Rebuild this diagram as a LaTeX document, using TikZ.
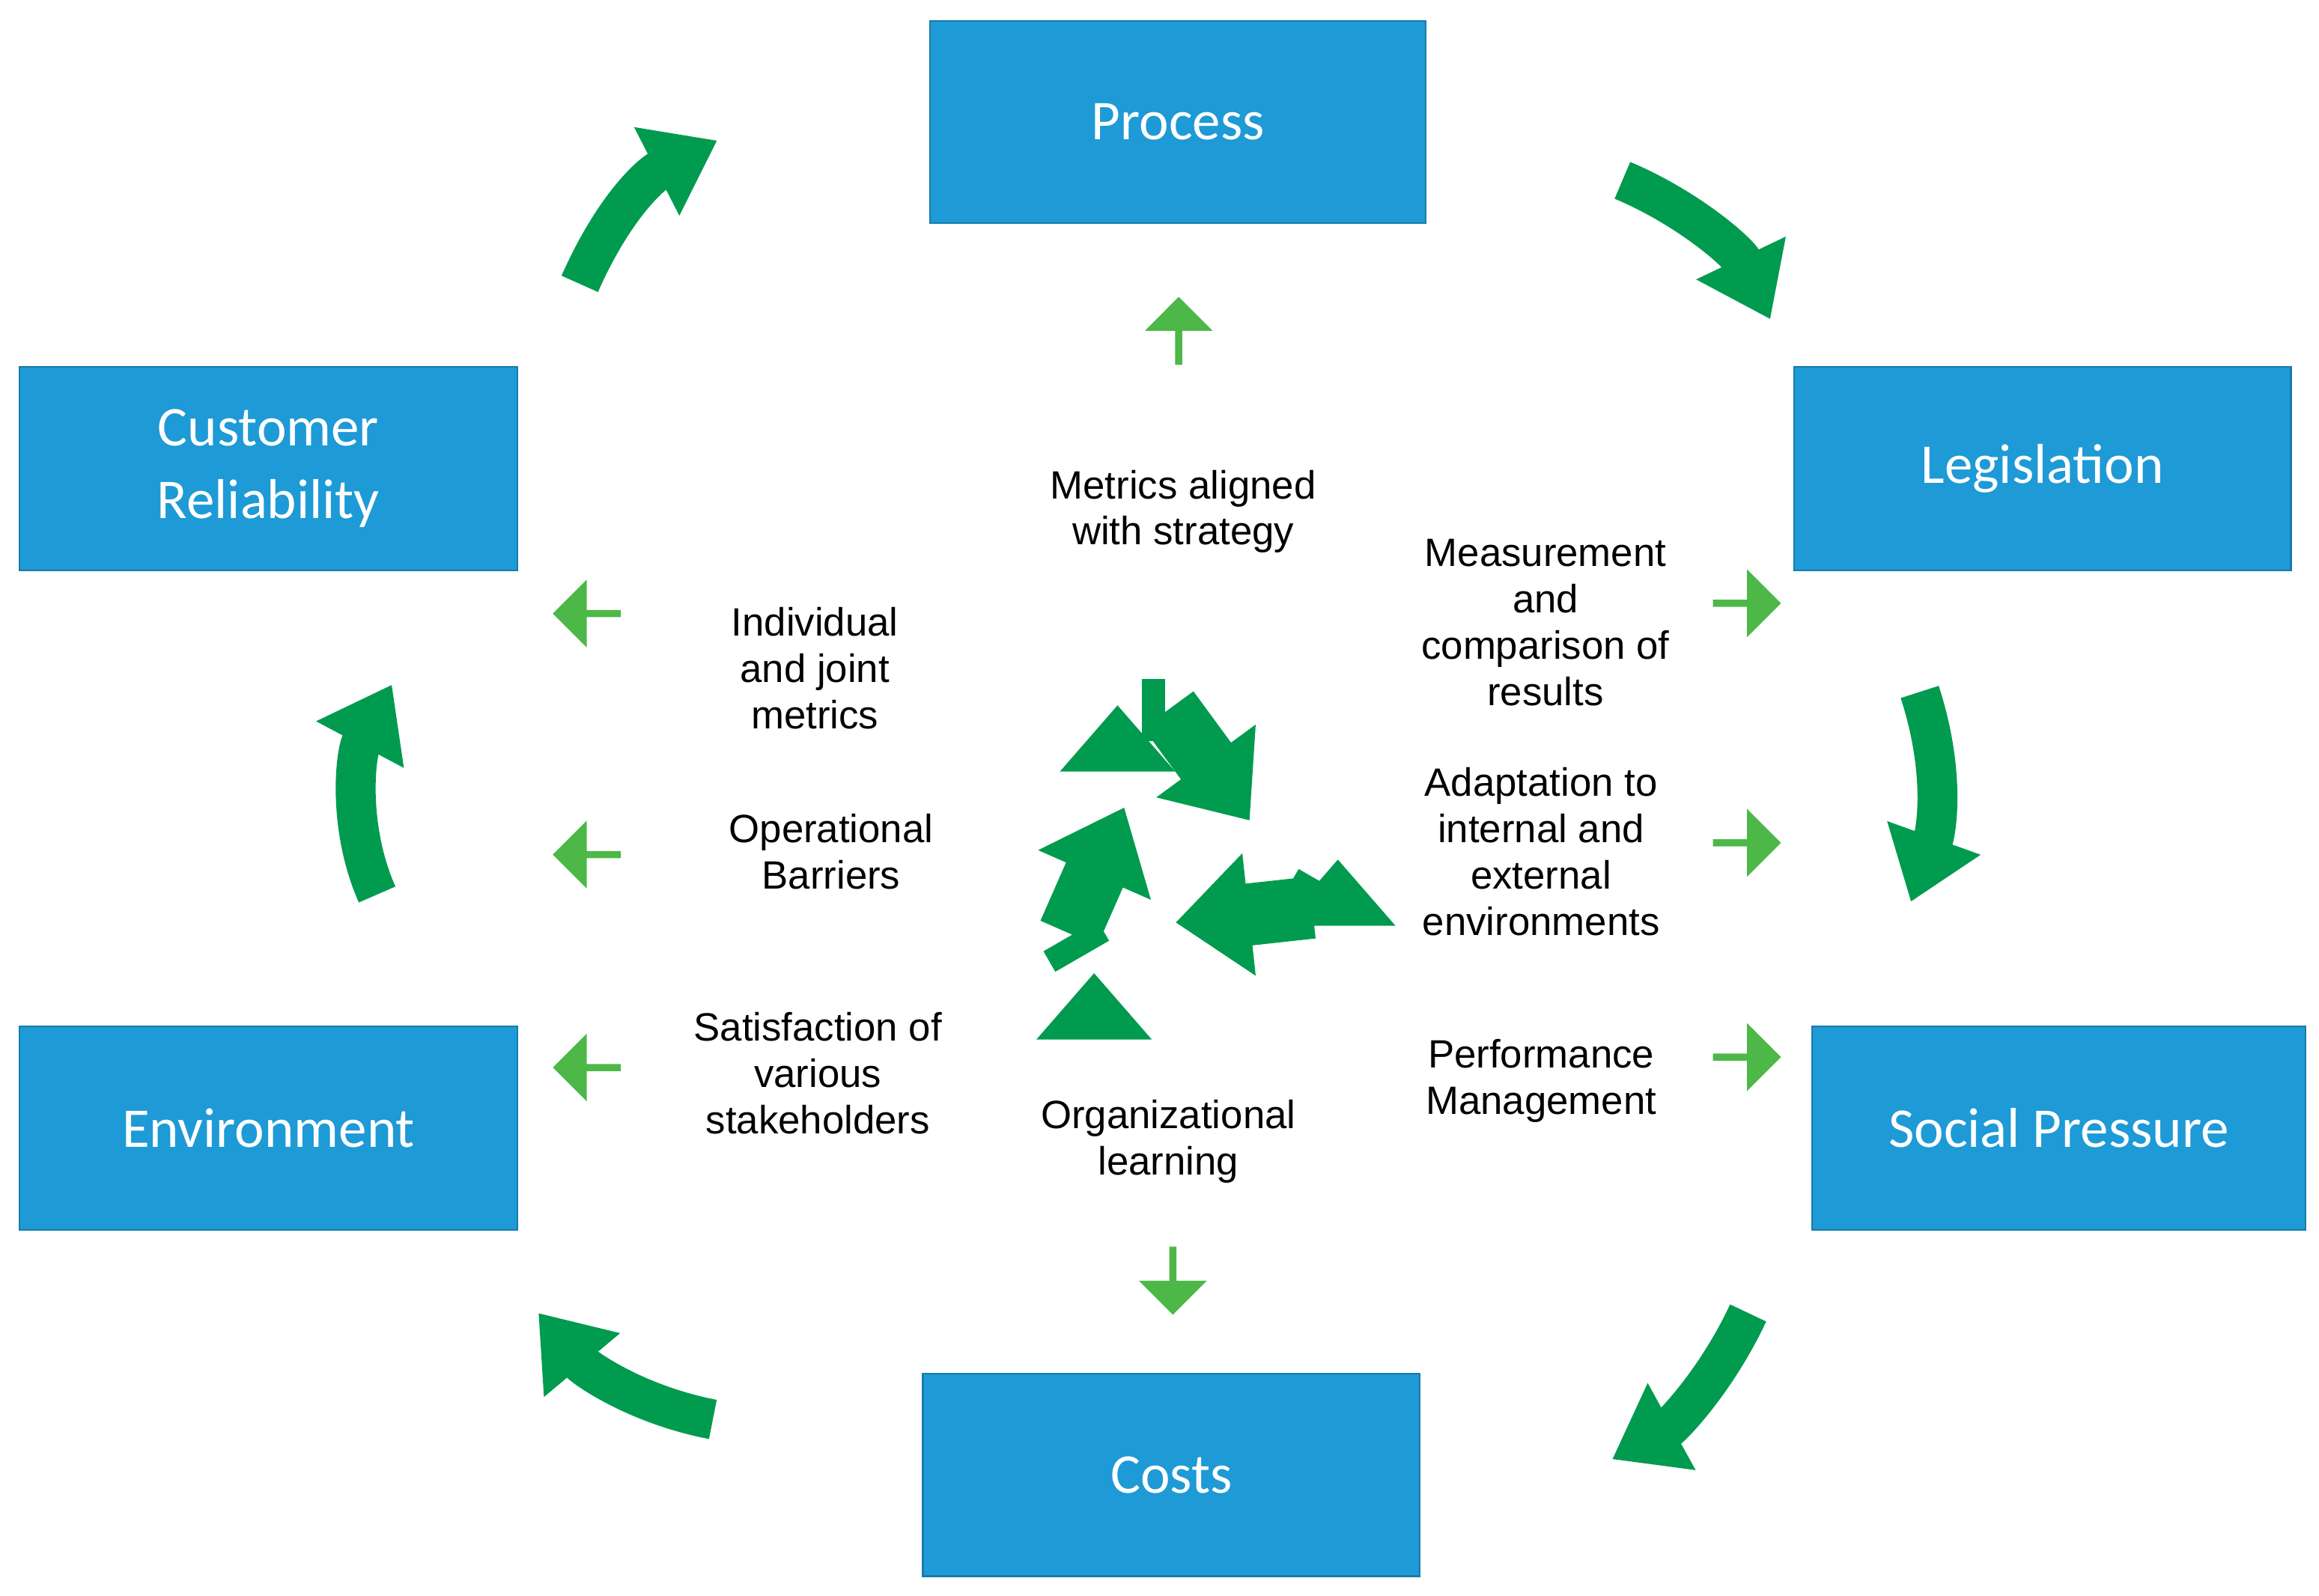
\documentclass[tikz,border=0pt]{standalone}
\usepackage{fontspec}
\setmainfont{Liberation Sans}
\newfontfamily\boxfont{Carlito}
\usetikzlibrary{arrows.meta,shapes.arrows}
\definecolor{boxblue}{HTML}{1E9AD6}
\definecolor{dgreen}{HTML}{009B4E}
\definecolor{lgreen}{HTML}{4DB848}
\begin{document}
\begin{tikzpicture}[x=0.1mm,y=-0.1mm,
  box/.style={fill=boxblue,draw=boxblue!80!black,line width=0.3pt,inner sep=0pt,text=white,align=center,font=\boxfont\fontsize{10.8}{14}\selectfont},
  lbl/.style={align=center,font=\fontsize{7.6}{8.9}\selectfont},
  big/.style={draw=dgreen,line width=2.7mm,-{Triangle[width=6.4mm,length=4.6mm]}},
  sm/.style={single arrow,fill=lgreen,minimum height=4.6mm,minimum width=4.6mm,single arrow head extend=0.6mm,inner sep=0pt,draw=none},
  rc/.style={draw=dgreen,line width=4mm,-{Triangle[width=7.5mm,length=4.5mm]}}]
\useasboundingbox (0,0) rectangle (1568,1079.4);
\node[box,minimum width=33.5mm,minimum height=13.7mm] (process) at (796.5,82.5) {Process};
\node[box,minimum width=33.6mm,minimum height=13.8mm] (legis) at (1381,317) {Legislation};
\node[box,minimum width=33.7mm,minimum height=13.8mm] (cust) at (181.5,317) {Customer\\Reliability};
\node[box,minimum width=33.7mm,minimum height=13.8mm] (env) at (181.5,763) {Environment};
\node[box,minimum width=33.4mm,minimum height=13.8mm] (social) at (1392,763) {Social Pressure};
\node[box,minimum width=33.6mm,minimum height=13.7mm] (costs) at (792,997.5) {Costs};
% big arrows
\coordinate (a1s) at (392,192); \coordinate (a1e) at (485,95);
\draw[big] (a1s) .. controls (415,140) and (440,118) .. (a1e);
\coordinate (a2s) at (1097,122); \coordinate (a2e) at (1197,216);
\draw[big] (a2s) .. controls (1140,140) and (1175,170) .. (a2e);
\coordinate (a3s) at (1298,468); \coordinate (a3e) at (1292,610);
\draw[big] (a3s) .. controls (1315,520) and (1310,560) .. (a3e);
\coordinate (a4s) at (1182,888); \coordinate (a4e) at (1090,987);
\draw[big] (a4s) .. controls (1160,935) and (1130,965) .. (a4e);
\coordinate (a5s) at (482,960); \coordinate (a5e) at (364,888);
\draw[big] (a5s) .. controls (430,950) and (395,925) .. (a5e);
\coordinate (a6s) at (255,605); \coordinate (a6e) at (265,463);
\draw[big] (a6s) .. controls (235,560) and (240,510) .. (a6e);
% small arrows
\node[sm,shape border rotate=90] (u1) at (797,225) {};
\node[sm,shape border rotate=180] (l1) at (398,415) {};
\node[sm,shape border rotate=180] (l2) at (398,578) {};
\node[sm,shape border rotate=180] (l3) at (398,722) {};
\node[sm] (r1) at (1180,408) {};
\node[sm] (r2) at (1180,570) {};
\node[sm] (r3) at (1180,715) {};
\node[sm,shape border rotate=270] (d1) at (793,865) {};
% recycle symbol
\begin{scope}[shift={(800,572)}]
\foreach \a in {90,210,330}{
  \draw[rc] (\a-25:-105) ++(0,0);
}
\coordinate (v1) at (90:-100);
\end{scope}
\begin{scope}[shift={(800,575)}]
\foreach \r in {0,120,240}{
 \begin{scope}[rotate=\r]
  \draw[draw=dgreen,line width=4.2mm,-{Triangle[width=8mm,length=5mm]}] (-10,-95) -- (45,-20);
  \draw[draw=dgreen,line width=4.2mm] (-28,-95) -- (-12,-95);
 \end{scope}}
\end{scope}
% labels
\node[lbl] (t1) at (800,346) {Metrics aligned\\with strategy};
\node[lbl] (t2) at (551,452) {Individual\\and joint\\metrics};
\node[lbl] (t3) at (562,576) {Operational\\Barriers};
\node[lbl] (t4) at (553,726) {Satisfaction of\\various\\stakeholders};
\node[lbl] (t5) at (790,772) {Organizational\\learning};
\node[lbl] (t6) at (1045,421) {Measurement\\and\\comparison of\\results};
\node[lbl] (t7) at (1042,576) {Adaptation to\\internal and\\external\\environments};
\node[lbl] (t8) at (1042,731) {Performance\\Management};
\end{tikzpicture}
\end{document}
